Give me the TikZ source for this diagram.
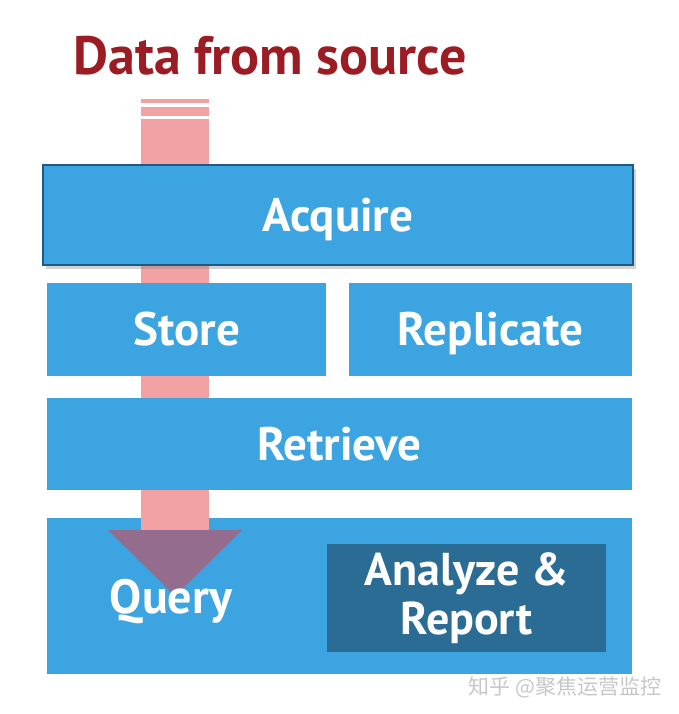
\documentclass[tikz,border=0pt]{standalone}
\usepackage{fontspec}
\setmainfont{PT Sans}
\newfontfamily\cjkfont{Noto Sans CJK SC}
\usetikzlibrary{shadows}
\definecolor{boxblue}{HTML}{3CA4E0}
\definecolor{edgeblue}{HTML}{1F5A84}
\definecolor{darkbox}{HTML}{2B6C95}
\definecolor{titlered}{HTML}{9C1C24}
\definecolor{flowpink}{HTML}{F2A2A2}
\definecolor{flowhead}{HTML}{946C8E}

\begin{document}
\begin{tikzpicture}[x=1pt,y=-1pt,
	block/.style={fill=boxblue,text=white,inner sep=0pt,text height=34pt,text depth=2pt,
		font=\fontsize{47}{50}\selectfont\bfseries},
	report/.style={fill=darkbox,text=white,inner sep=0pt,align=center,
		font=\fontsize{46}{49}\selectfont\bfseries}]
	\useasboundingbox (0,0) rectangle (678,714);
	
	\node[anchor=base,text=titlered,font=\fontsize{54}{58}\selectfont\bfseries](title) at (270,75){Data from source};
	
	% bottom box goes first, the flow runs over it
	\node[fill=boxblue,minimum width=585pt,minimum height=156pt](query) at (339.5,596){};
	
	% data flow
	\fill[flowpink] (141,99) rectangle (209,103);
	\fill[flowpink] (141,107) rectangle (209,116);
	\fill[flowpink] (141,119) rectangle (209,531);
	\fill[flowhead] (108,530) -- (242,530) -- (175,596) -- cycle;
	
	\node[block,minimum width=590pt,minimum height=100pt,draw=edgeblue,line width=2pt,
		drop shadow={shadow xshift=3pt,shadow yshift=-4pt,opacity=.35}](acquire) at (338,215){Acquire};
	\node[block,minimum width=279pt,minimum height=93pt](store) at (186.5,329.5){Store};
	\node[block,minimum width=283pt,minimum height=93pt](replicate) at (490.5,329.5){Replicate};
	\node[block,minimum width=585pt,minimum height=92pt](retrieve) at (339.5,444){Retrieve};
	
	\node[anchor=base,text=white,font=\fontsize{48}{50}\selectfont\bfseries](qlabel) at (171,613){Query};
	\node[report,minimum width=279pt,minimum height=108pt](analyze) at (466.5,598){Analyze \&\\Report};
	
	\node[text=black!22,font=\cjkfont\fontsize{21}{24}\selectfont](mark) at (565,687){知乎 @聚焦运营监控};
\end{tikzpicture}
\end{document}
